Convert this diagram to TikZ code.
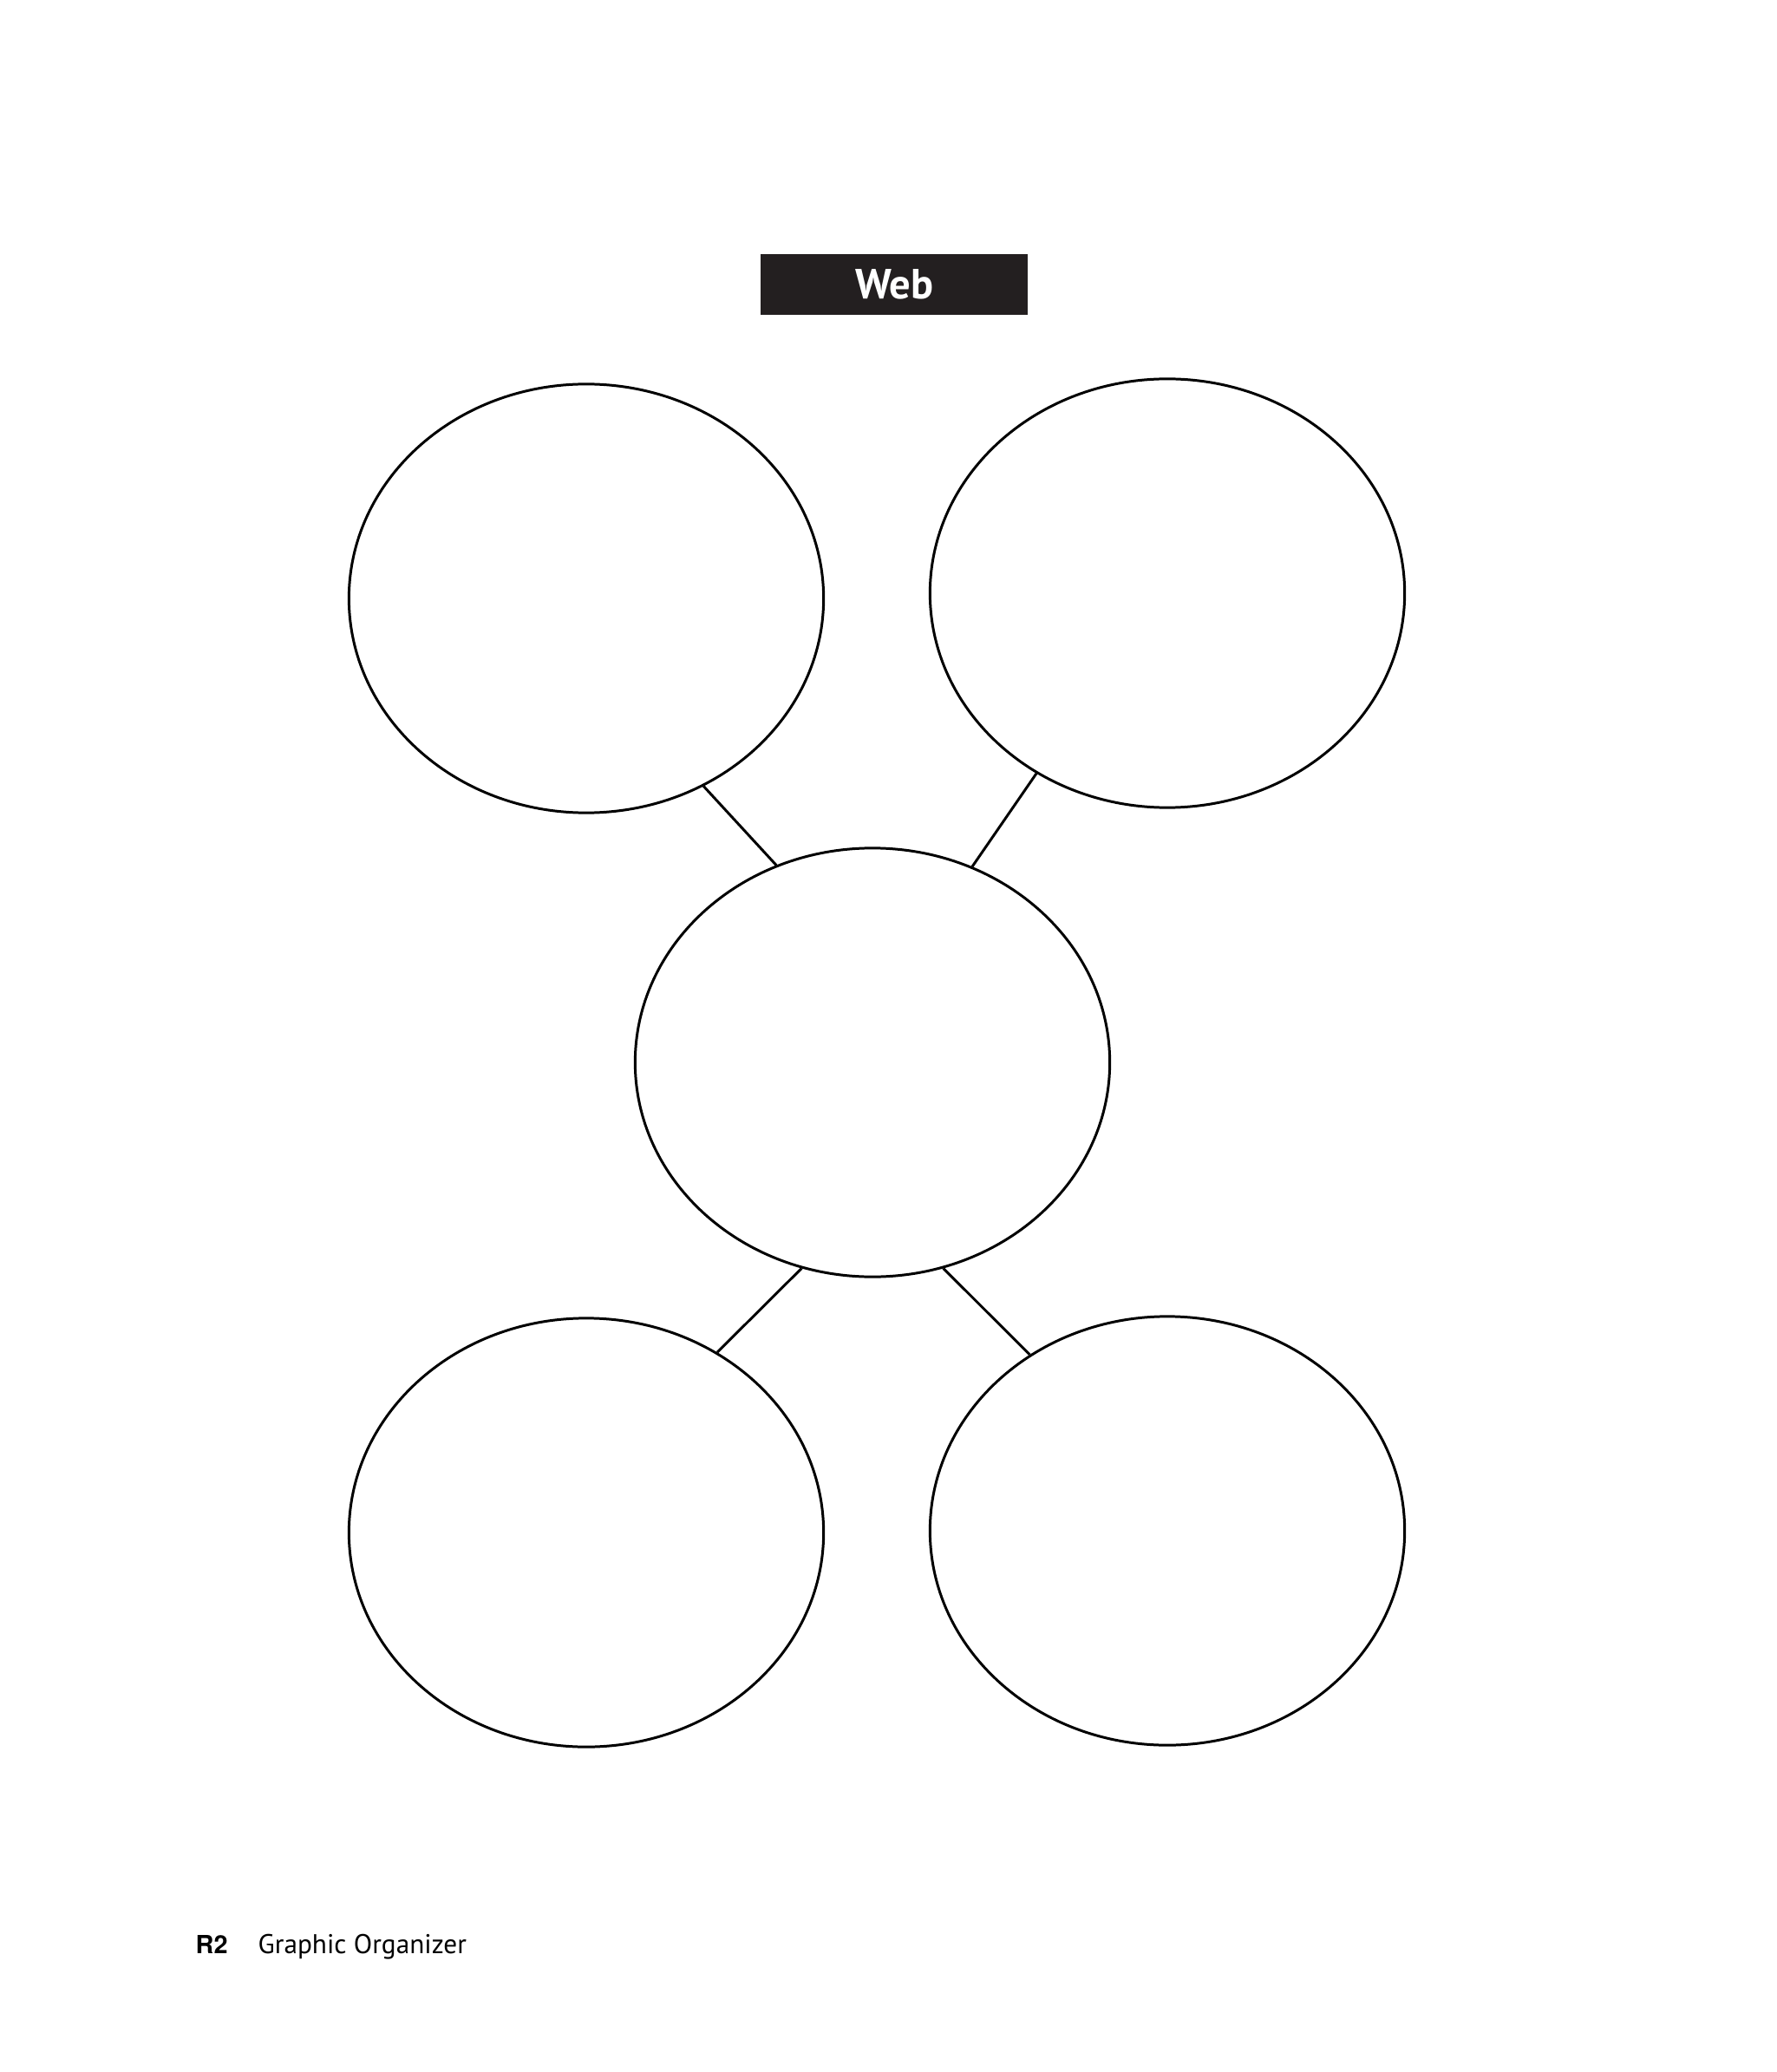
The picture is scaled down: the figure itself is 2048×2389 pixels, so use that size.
\documentclass[tikz,border=0pt]{standalone}
\usepackage{fontspec}
\setmainfont{PT Sans}
\newfontfamily\heros{TeX Gyre Heros}
\usetikzlibrary{shapes.geometric}

\definecolor{barfill}{RGB}{35,31,32}

\begin{document}
\begin{tikzpicture}[x=0.01cm,y=-0.01cm,
		bubble/.style={draw, ellipse, line width=0.85pt, inner sep=0pt, minimum width=5.47cm, minimum height=4.94cm},
		spoke/.style={line width=0.85pt}]
		\useasboundingbox[fill=white] (0,0) rectangle (2048,2389);
		% title bar
		\node[fill=barfill, text=white, minimum width=3.07cm, minimum height=0.69cm, inner sep=0pt, font=\fontsize{13.8}{16}\selectfont\bfseries] (title) at (1031,328) {Web};
		% bubbles
		\node[bubble] (tl) at (676,690) {};
		\node[bubble] (tr) at (1346,684) {};
		\node[bubble] (mid) at (1006,1225) {};
		\node[bubble] (bl) at (676,1767) {};
		\node[bubble] (br) at (1346,1765) {};
		% spokes
		\draw[spoke] (tl.-58.5) -- (mid.116.7);
		\draw[spoke] (tr.-126.3) -- (mid.63.5);
		\draw[spoke] (bl.54.6) -- (mid.-109.4);
		\draw[spoke] (br.128.4) -- (mid.-71.6);
		% footer
		\node[anchor=base west, inner sep=0pt, font=\fontsize{8.2}{10}\selectfont\heros\bfseries] (page) at (225,2252) {R2};
		\node[anchor=base west, inner sep=0pt, font=\fontsize{8.9}{10}\selectfont] (label) at (297,2252) {Graphic Organizer};
	\end{tikzpicture}
\end{document}
